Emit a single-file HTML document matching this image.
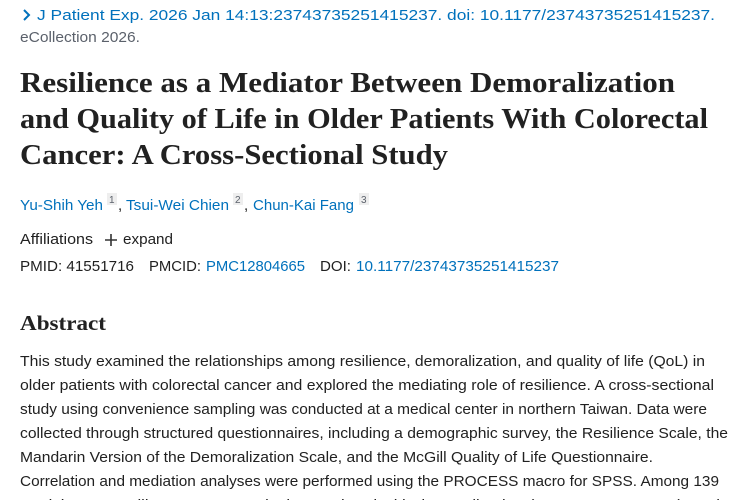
<!DOCTYPE html>
<html><head><meta charset="utf-8"><style>
html,body{margin:0;padding:0;background:#fff;width:750px;height:500px;overflow:hidden}
svg{display:block}
.s{font-family:"Liberation Sans",sans-serif;font-size:15px}
.b{fill:#0071bc}
.g{fill:#212121}
.t{font-family:"Liberation Serif",serif;font-weight:bold;font-size:28px;fill:#212121}
.sup{font-family:"Liberation Sans",sans-serif;font-size:10px;fill:#5b616b}
</style></head><body>
<svg width="750" height="500" xmlns="http://www.w3.org/2000/svg">
<path d="M24 10 L29 15 L24 20" stroke="#0071bc" stroke-width="2" fill="none"/>
<text class="s b" x="37" y="20" textLength="678" lengthAdjust="spacingAndGlyphs">J Patient Exp. 2026 Jan 14:13:23743735251415237. doi: 10.1177/23743735251415237.</text>
<text class="s" fill="#5b616b" x="20" y="42" textLength="120" lengthAdjust="spacingAndGlyphs">eCollection 2026.</text>
<text class="t" x="20" y="92" textLength="655" lengthAdjust="spacingAndGlyphs">Resilience as a Mediator Between Demoralization</text>
<text class="t" x="20" y="128" textLength="688" lengthAdjust="spacingAndGlyphs">and Quality of Life in Older Patients With Colorectal</text>
<text class="t" x="20" y="164" textLength="428" lengthAdjust="spacingAndGlyphs">Cancer: A Cross-Sectional Study</text>
<rect x="107" y="193" width="10" height="12" fill="#eee"/>
<rect x="233" y="193" width="10" height="12" fill="#eee"/>
<rect x="359" y="193" width="10" height="12" fill="#eee"/>
<text class="s b" x="20" y="210" textLength="83" lengthAdjust="spacingAndGlyphs">Yu-Shih Yeh</text>
<text class="sup" x="109" y="203">1</text>
<text class="s g" x="118" y="210">,</text>
<text class="s b" x="126" y="210" textLength="103" lengthAdjust="spacingAndGlyphs">Tsui-Wei Chien</text>
<text class="sup" x="235" y="203">2</text>
<text class="s g" x="244" y="210">,</text>
<text class="s b" x="253" y="210" textLength="101" lengthAdjust="spacingAndGlyphs">Chun-Kai Fang</text>
<text class="sup" x="361" y="203">3</text>
<text class="s g" x="20" y="244" textLength="73" lengthAdjust="spacingAndGlyphs">Affiliations</text>
<path d="M105 240 h12 M111 234 v12" stroke="#333" stroke-width="1.6"/>
<text class="s g" x="123" y="244" textLength="50" lengthAdjust="spacingAndGlyphs">expand</text>
<text class="s g" x="20" y="271" textLength="114" lengthAdjust="spacingAndGlyphs">PMID: 41551716</text>
<text class="s g" x="149" y="271" textLength="52" lengthAdjust="spacingAndGlyphs">PMCID:</text>
<text class="s b" x="206" y="271" textLength="99" lengthAdjust="spacingAndGlyphs">PMC12804665</text>
<text class="s g" x="320" y="271" textLength="31" lengthAdjust="spacingAndGlyphs">DOI:</text>
<text class="s b" x="356" y="271" textLength="203" lengthAdjust="spacingAndGlyphs">10.1177/23743735251415237</text>
<text font-family="Liberation Serif,serif" font-weight="bold" font-size="21" fill="#212121" x="20" y="330" textLength="86" lengthAdjust="spacingAndGlyphs">Abstract</text>
<g class="s g">
<text x="20" y="366" textLength="685" lengthAdjust="spacingAndGlyphs">This study examined the relationships among resilience, demoralization, and quality of life (QoL) in</text>
<text x="20" y="390" textLength="694" lengthAdjust="spacingAndGlyphs">older patients with colorectal cancer and explored the mediating role of resilience. A cross-sectional</text>
<text x="20" y="414" textLength="687" lengthAdjust="spacingAndGlyphs">study using convenience sampling was conducted at a medical center in northern Taiwan. Data were</text>
<text x="20" y="438" textLength="708" lengthAdjust="spacingAndGlyphs">collected through structured questionnaires, including a demographic survey, the Resilience Scale, the</text>
<text x="20" y="462" textLength="633" lengthAdjust="spacingAndGlyphs">Mandarin Version of the Demoralization Scale, and the McGill Quality of Life Questionnaire.</text>
<text x="20" y="486" textLength="699" lengthAdjust="spacingAndGlyphs">Correlation and mediation analyses were performed using the PROCESS macro for SPSS. Among 139</text>
<text x="20" y="510" textLength="700" lengthAdjust="spacingAndGlyphs">participants, resilience was negatively correlated with demoralization (r = -0.720, P &lt; .001), and</text>
</g>
</svg>
</body></html>
